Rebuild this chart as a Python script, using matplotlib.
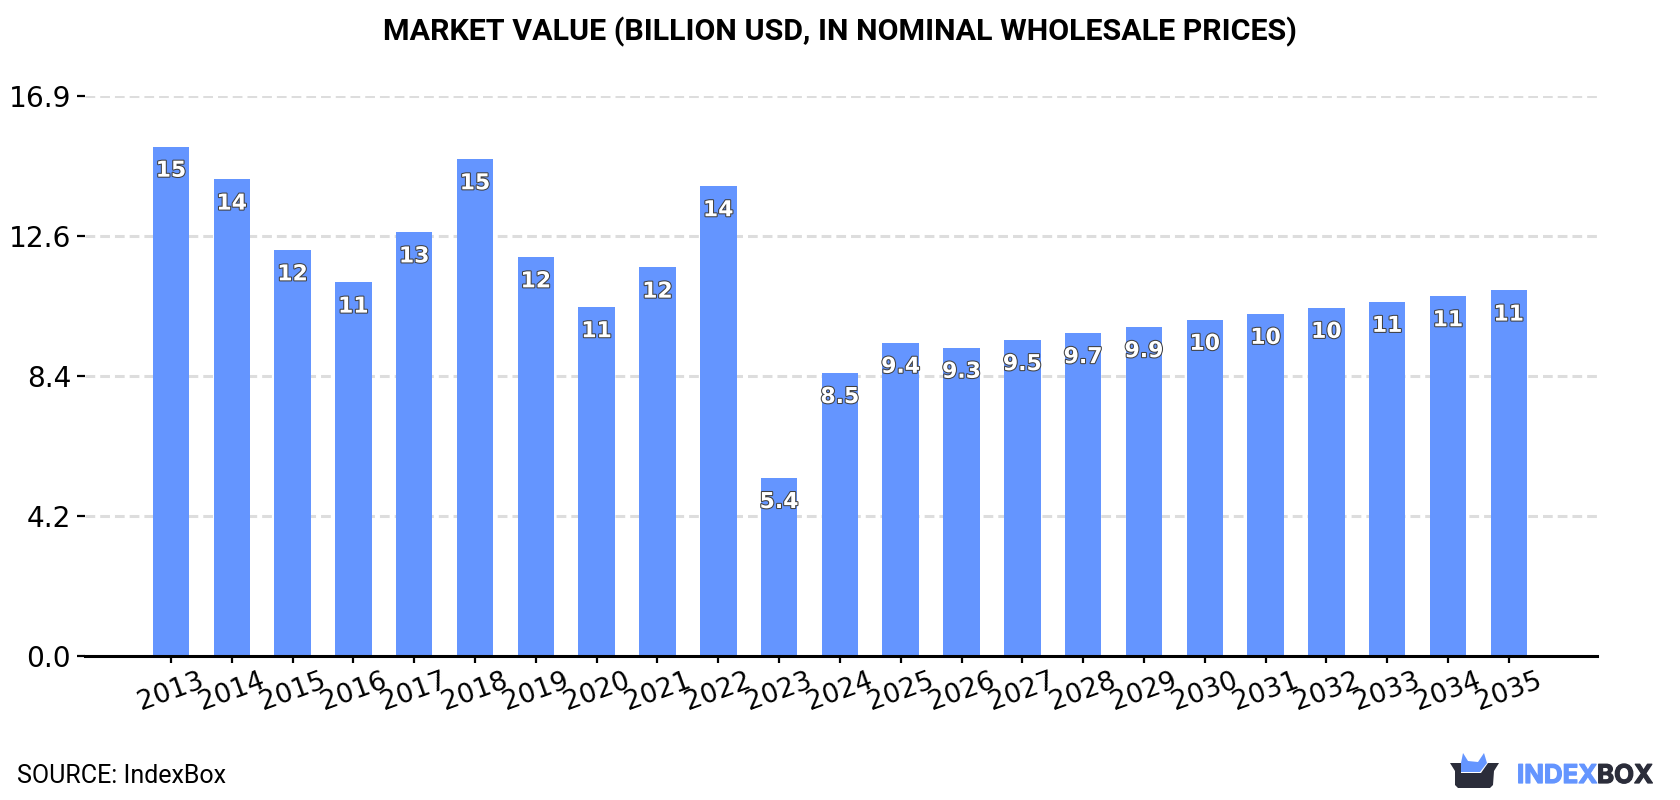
import numpy as np
import matplotlib
matplotlib.use('Agg')
import matplotlib.pyplot as plt
import matplotlib.patheffects as pe
from matplotlib.patches import Polygon

years = [2013, 2014, 2015, 2016, 2017, 2018, 2019, 2020, 2021, 2022, 2023, 2024,
         2025, 2026, 2027, 2028, 2029, 2030, 2031, 2032, 2033, 2034, 2035]
values = [15.33, 14.34, 12.21, 11.24, 12.75, 14.95, 12.0, 10.5, 11.69, 14.14, 5.36, 8.52,
          9.43, 9.28, 9.51, 9.72, 9.9, 10.12, 10.3, 10.48, 10.66, 10.83, 11.0]
value_labels = ['15', '14', '12', '11', '13', '15', '12', '11', '12', '14', '5.4', '8.5',
                '9.4', '9.3', '9.5', '9.7', '9.9', '10', '10', '10', '11', '11', '11']
y_ticks = [0, 4.2125, 8.425, 12.6375, 16.85]
y_tick_labels = ['0.0', '4.2', '8.4', '12.6', '16.9']

W, H = 1680, 800
BLUE = '#6495ff'
DARK = '#2b2d3a'

plt.rcParams['lines.scale_dashes'] = False

fig = plt.figure(figsize=(W / 100, H / 100), dpi=100)
ax = fig.add_axes([85 / W, 1 - 656 / H, (1597 - 85) / W, (656 - 96) / H])

x = np.arange(len(years))
ax.bar(x, values, width=0.6, color=BLUE, zorder=2)
ax.set_xlim(-1.414, 23.45)
ax.set_ylim(0, 16.85)

ax.set_yticks(y_ticks)
ax.set_yticklabels(y_tick_labels, fontsize=20.2)
ax.set_xticks(x)
ax.set_xticklabels(years, fontsize=19.4, rotation=20)
ax.tick_params(axis='y', length=6, width=1.6, pad=4)
ax.tick_params(axis='x', length=5, width=1.6, pad=3.5)

ax.grid(axis='y', color='#dddddd', linewidth=2.2, linestyle=(0, (7, 3.6)), zorder=1)
ax.set_axisbelow(True)
for side in ['top', 'left', 'right']:
    ax.spines[side].set_visible(False)
ax.spines['bottom'].set_linewidth(2.2)
ax.spines['bottom'].set_zorder(5)

# value labels sit just inside the top of each bar
for xi, v, lab in zip(x, values, value_labels):
    ax.annotate(lab, (xi, v), xytext=(0, -17.4), textcoords='offset points',
                ha='center', va='center', color='white', fontsize=15.8,
                fontweight='bold', family='DejaVu Sans', zorder=4,
                path_effects=[pe.withStroke(linewidth=1.5, foreground='#404040')])

fig.text(840 / W, 1 - 32 / H, 'MARKET VALUE (BILLION USD, IN NOMINAL WHOLESALE PRICES)',
         ha='center', va='center', fontsize=21.9, fontweight='bold', family='Roboto', color='black')
fig.text(17 / W, 1 - 776 / H, 'SOURCE: IndexBox', ha='left', va='center',
         fontsize=18, family='Roboto', color='black')


# logo shapes are given in pixels from the top left corner
def px_poly(points, color):
    pts = [(px / W, 1 - py / H) for px, py in points]
    fig.patches.append(Polygon(pts, closed=True, facecolor=color, edgecolor='none',
                               transform=fig.transFigure))


px_poly([(1461, 763), (1463, 753), (1468, 761), (1478, 762), (1484, 753), (1487, 763),
         (1480, 772), (1461, 772)], BLUE)
px_poly([(1450, 763), (1461, 763), (1461, 773), (1481, 773), (1488, 763), (1499, 763),
         (1494, 771), (1493, 785), (1490, 788), (1458, 788), (1455, 785), (1455, 771)], DARK)

# the wordmark is heavier than the bold face, so it gets a thin outline of its own colour
fig.text(1517 / W, 1 - 783 / H, 'INDEX', ha='left', va='baseline', fontsize=18.6,
         fontweight='bold', family='Inter', color=BLUE,
         path_effects=[pe.withStroke(linewidth=0.9, foreground=BLUE)])
fig.text(1597 / W, 1 - 783 / H, 'BOX', ha='left', va='baseline', fontsize=18.6,
         fontweight='bold', family='Inter', color=DARK,
         path_effects=[pe.withStroke(linewidth=0.9, foreground=DARK)])

fig.savefig('out.png', dpi=100, facecolor='white')
